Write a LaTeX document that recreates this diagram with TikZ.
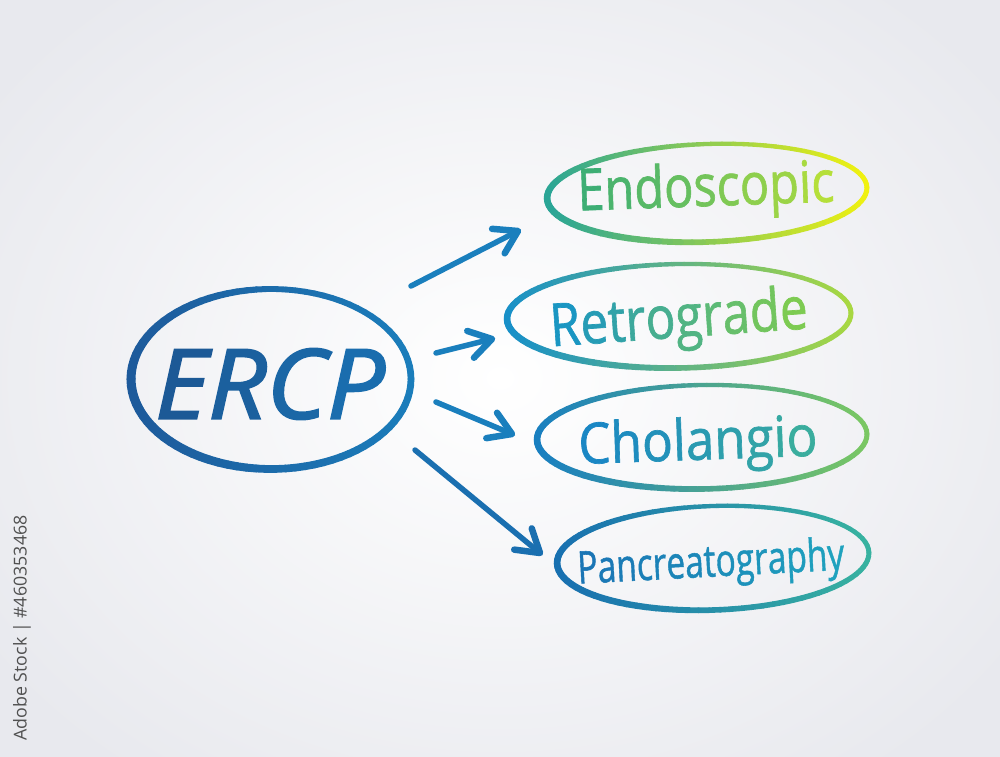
\documentclass[tikz,border=0pt]{standalone}
\usepackage{fontspec}
\usepackage{graphicx}
\setmainfont{Open Sans}
\newfontfamily\ercpfont[FakeBold=2]{Open Sans}
\newfontfamily\wordfont[FakeBold=1.2]{Open Sans}
\usetikzlibrary{calc,shapes.geometric}
\definecolor{bgout}{RGB}{232,233,238}
\definecolor{ercpL}{HTML}{1D5A9B}\definecolor{ercpR}{HTML}{1B7DBB}
\definecolor{ercpTL}{HTML}{1C5996}\definecolor{ercpTR}{HTML}{1A6DAE}
\definecolor{endoL}{HTML}{2AA596}\definecolor{endoR}{HTML}{F2F20F}
\definecolor{endoTL}{HTML}{3DAE74}\definecolor{endoTR}{HTML}{B5DF3A}
\definecolor{retroL}{HTML}{1890C8}\definecolor{retroR}{HTML}{A9D841}
\definecolor{retroTL}{HTML}{1A96C2}\definecolor{retroTR}{HTML}{7DCB52}
\definecolor{cholL}{HTML}{197FC0}\definecolor{cholR}{HTML}{7BC862}
\definecolor{cholTL}{HTML}{1A87C4}\definecolor{cholTR}{HTML}{3AAD9E}
\definecolor{pancL}{HTML}{1870B0}\definecolor{pancR}{HTML}{38B3A0}
\definecolor{pancTL}{HTML}{1A75B5}\definecolor{pancTR}{HTML}{1FA2BE}
\definecolor{arrowc}{HTML}{1A7FBD}
\definecolor{arrowd}{HTML}{1A6FB0}
\definecolor{wmark}{RGB}{80,80,80}
\newcount\grI \newcount\grN
\def\gradtext#1#2#3#4{\grI=0 \grN=#3\relax\def\grL{#1}\def\grR{#2}\gradloop#4\relax}
\def\gradloop#1{\ifx#1\relax\else\pgfmathtruncatemacro\grP{100-100*\grI/(\grN-1)}\textcolor{\grL!\grP!\grR}{#1}\advance\grI by 1\relax\expandafter\gradloop\fi}
% cx cy rx ry rot colL colR lw
\newcommand\gradring[8]{%
 \begin{scope}[shift={(#1,#2)}, rotate=#5]
 \foreach \a in {0,4,...,356}{
   \pgfmathtruncatemacro\grQ{50+50*cos(\a+2)}
   \pgfmathsetmacro\grW{#8*(0.9+0.3*max(0,-cos(\a+2))+0.12*sin(\a+2))}
   \draw[line width=\grW pt, line cap=round, color=#7!\grQ!#6] (\a:#3 and #4) -- (\a+4:#3 and #4);
 }
 \end{scope}}
\tikzset{
  arrowline/.style={line width=5.5pt, line cap=round, color=arrowc},
  arrowhead/.style={line width=6.5pt, line cap=round, line join=round, color=arrowc},
  word/.style={inner sep=0pt, anchor=center}
}
% start end colour
\newcommand\handarrow[3]{%
  \draw[arrowline, color=#3] (#1) -- (#2);
  \draw[arrowhead, color=#3] ($(#2)!26pt!32:(#1)$) -- (#2) -- ($(#2)!26pt!-32:(#1)$);}
\begin{document}
\begin{tikzpicture}[x=1pt,y=-1pt]
\useasboundingbox (0,0) rectangle (1000,756);
\shade[inner color=white, outer color=bgout] (-120,-120) rectangle (1120,876);
% watermark id
\node[word, rotate=90, text=wmark] (wm) at (22,628) {\resizebox{225pt}{!}{Adobe Stock | \#460353468}};
% rings
\gradring{271}{379}{140}{90}{0}{ercpL}{ercpR}{7.5}
\gradring{707}{193}{160}{49}{2}{endoL}{endoR}{5.5}
\gradring{679}{316}{172}{52}{1}{retroL}{retroR}{5.5}
\gradring{702}{437}{165}{52}{1}{cholL}{cholR}{5.5}
\gradring{713}{558}{156}{52}{2}{pancL}{pancR}{5.5}
% texts
\node[word] (ercp) at (270,384) {\resizebox{230pt}{70pt}{\ercpfont\itshape\gradtext{ercpTL}{ercpTR}{4}{ERCP}}};
\node[word, rotate=2] (endo) at (706,191) {\resizebox{257pt}{44pt}{\wordfont\gradtext{endoTL}{endoTR}{10}{Endoscopic}}};
\node[word, rotate=4] (retro) at (679,322) {\resizebox{258pt}{45pt}{\wordfont\gradtext{retroTL}{retroTR}{10}{Retrograde}}};
\node[word, rotate=2] (chol) at (698,445) {\resizebox{239pt}{43pt}{\wordfont\gradtext{cholTL}{cholTR}{9}{Cholangio}}};
\node[word, rotate=3] (panc) at (711,565) {\resizebox{267pt}{34pt}{\wordfont\gradtext{pancTL}{pancTR}{15}{Pancreatography}}};
% arrows
\coordinate (a1s) at (411,286); \coordinate (a1e) at (518,231);
\coordinate (a2s) at (436,353); \coordinate (a2e) at (492,339);
\coordinate (a3s) at (436,402); \coordinate (a3e) at (512,434);
\coordinate (a4s) at (415,450); \coordinate (a4e) at (540,553);
\handarrow{a1s}{a1e}{arrowc}
\handarrow{a2s}{a2e}{arrowc}
\handarrow{a3s}{a3e}{arrowc}
\handarrow{a4s}{a4e}{arrowd}
\end{tikzpicture}
\end{document}
